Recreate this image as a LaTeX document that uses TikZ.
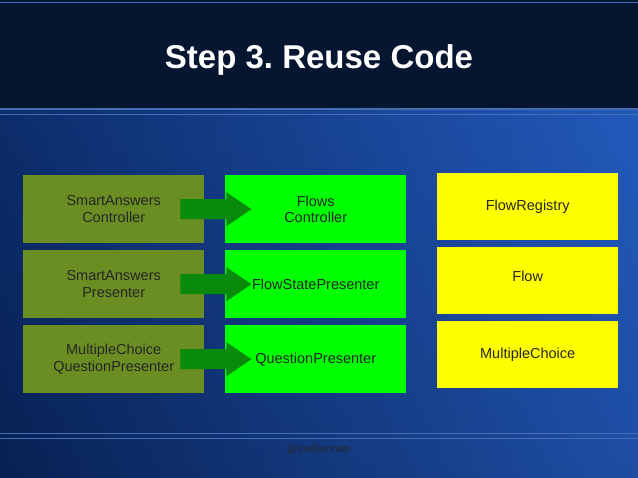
\documentclass[tikz,border=0pt]{standalone}
\usepackage{fontspec}
\setmainfont{Liberation Sans}
\newfontfamily\serifft{Liberation Serif}
\begin{document}
\begin{tikzpicture}[x=1pt,y=-1pt,
  box/.style={draw=none,minimum width=181pt,minimum height=68pt,anchor=north west,align=center,font=\fontsize{14.5}{16.5}\selectfont,text=black!85,inner sep=0pt},
  olive/.style={box,fill=olivebox},
  lime/.style={box,fill=limebox},
  yel/.style={box,fill=yellowbox,minimum height=67pt},
  arr/.style={fill=arrowgreen}]
\definecolor{olivebox}{HTML}{6B8E23}
\definecolor{limebox}{HTML}{00FF00}
\definecolor{yellowbox}{HTML}{FFFF00}
\definecolor{arrowgreen}{HTML}{0A8A0A}
\definecolor{navy}{HTML}{061530}
\useasboundingbox (0,0) rectangle (638,478);
\shade[left color={rgb,255:red,8;green,35;blue,85}, right color={rgb,255:red,45;green,110;blue,220}] (0,108) rectangle (638,478);
\shade[top color={rgb,255:red,20;green,60;blue,140}, bottom color={rgb,255:red,8;green,30;blue,80},opacity=0.4] (0,108) rectangle (638,478);
\fill[navy] (0,0) rectangle (638,108);
\draw[color={rgb,255:red,70;green,110;blue,180},line width=1pt] (0,3) -- (638,3);
\draw[color={rgb,255:red,70;green,110;blue,180},line width=1.5pt] (0,109) -- (638,109);
\draw[color={rgb,255:red,70;green,110;blue,180},line width=0.8pt] (0,114) -- (638,114);
\draw[color={rgb,255:red,70;green,110;blue,180},line width=0.8pt] (0,433) -- (638,433);
\draw[color={rgb,255:red,70;green,110;blue,180},line width=0.8pt] (0,438) -- (638,438);
\node[text=white,font=\bfseries\fontsize{33}{36}\selectfont] (title) at (319,60) {\frenchspacing Step 3. Reuse Code};
\node[text=black!85,font=\serifft\fontsize{12}{14}\selectfont] (foot) at (319,449) {@codescrum};
\foreach \n/\y/\a/\b in {1/175/{SmartAnswers\\Controller}/{Flows\\Controller},
                             2/250/{SmartAnswers\\Presenter}/FlowStatePresenter,
                             3/325/{MultipleChoice\\QuestionPresenter}/QuestionPresenter}{
  \node[olive] (o\n) at (23,\y) {\a};
  \node[lime] (g\n) at (225,\y) {\b};
}
\node[yel] (y1) at (437,173) {FlowRegistry};
\node[yel] (y2) at (437,247) {\raisebox{8pt}{Flow}};
\node[yel] (y3) at (437,321) {\raisebox{2pt}{MultipleChoice}};
\foreach \n in {1,2,3}{
  \coordinate (s\n) at ([xshift=-24pt]o\n.east);
  \fill[arr] (s\n) ++(0,-10) -- ++(46,0) -- ++(0,-7) -- ++(25,17) -- ++(-25,17) -- ++(0,-7) -- ++(-46,0) -- cycle;
}
\end{tikzpicture}
\end{document}
